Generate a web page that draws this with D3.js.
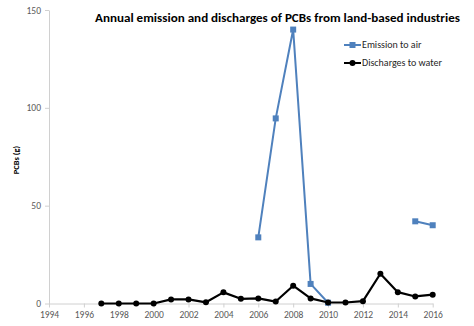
<!DOCTYPE html>
<html><head><meta charset="utf-8">
<script src="https://cdn.jsdelivr.net/npm/d3@7"></script>
<style>html,body{margin:0;padding:0;background:#fff;}svg{display:block;}</style>
</head><body>
<script>
const xTicks = [1994,1996,1998,2000,2002,2004,2006,2008,2010,2012,2014,2016];
const yTicks = [0,50,100,150];
const airYears  = [2006,2007,2008,2009,2010,2011,2012,2013,2014,2015,2016];
const airValues = [33.8,94.6,140,10,0.4,null,null,null,null,42,40];
const waterYears  = [1997,1998,1999,2000,2001,2002,2003,2004,2005,2006,2007,2008,2009,2010,2011,2012,2013,2014,2015,2016];
const waterValues = [0,0,0,0,2.1,2.1,0.6,5.7,2.4,2.6,1.0,9.1,2.6,0.5,0.5,1.2,15.2,5.8,3.6,4.5];
const seriesNames = ["Emission to air","Discharges to water"];
const title = "Annual emission and discharges of PCBs from land-based industries";
const yLabel = "PCBs (g)";

const W = 474, H = 326;
const svg = d3.select("body").append("svg").attr("width", W).attr("height", H);
const x = d3.scaleLinear().domain([1994, 2016]).range([49, 432.7]);
const y = d3.scaleLinear().domain([0, 150]).range([303.5, 10]);
const font = "Carlito, 'Liberation Sans Narrow', 'Liberation Sans', Arial, sans-serif";
const font2 = "Carlito, 'Liberation Sans', Arial, sans-serif";

// axes
const xAxis = svg.append("g").attr("transform", `translate(0,${y(0)})`)
  .call(d3.axisBottom(x).tickValues(xTicks).tickFormat(d3.format("d")).tickSize(4).tickSizeOuter(0));
const yAxis = svg.append("g").attr("transform", `translate(${x(1994)},0)`)
  .call(d3.axisLeft(y).tickValues(yTicks).tickSize(4).tickSizeOuter(0));
[xAxis, yAxis].forEach(g => {
  g.select(".domain").attr("stroke", "#d0d0d0").attr("stroke-width", 1);
  g.selectAll(".tick line").attr("stroke", "#d0d0d0");
  g.selectAll(".tick text").attr("fill", "#595959").style("font-family", font2).style("font-size", "9.5px");
});
xAxis.selectAll(".tick text").attr("dy", "0.71em").attr("y", 8);
yAxis.selectAll(".tick text").attr("x", -8);

// lines
const lineGen = d3.line().defined(d => d[1] != null).x(d => x(d[0])).y(d => y(d[1]));
const airData = airYears.map((yr, i) => [yr, airValues[i]]);
const waterData = waterYears.map((yr, i) => [yr, waterValues[i]]);
const airColor = "#4f81bd";

svg.append("path").datum(airData).attr("d", lineGen).attr("fill", "none")
  .attr("stroke", airColor).attr("stroke-width", 2).attr("stroke-linejoin", "round");
svg.selectAll(".airpt").data(airData.filter(d => d[1] != null)).enter().append("rect")
  .attr("x", d => x(d[0]) - 3).attr("y", d => y(d[1]) - 3).attr("width", 6).attr("height", 6)
  .attr("fill", airColor);

svg.append("path").datum(waterData).attr("d", lineGen).attr("fill", "none")
  .attr("stroke", "#000").attr("stroke-width", 2.2).attr("stroke-linejoin", "round");
svg.selectAll(".wpt").data(waterData).enter().append("circle")
  .attr("cx", d => x(d[0])).attr("cy", d => y(d[1])).attr("r", 3).attr("fill", "#000");

// title
svg.append("text").attr("x", 95).attr("y", 22).text(title)
  .style("font-family", font).style("font-weight", "bold").style("font-size", "12.5px")
  .attr("textLength", 365).attr("lengthAdjust", "spacingAndGlyphs").attr("fill", "#000");

// y label
svg.append("text").attr("transform", "translate(19,160) rotate(-90)").attr("text-anchor", "middle")
  .text(yLabel).style("font-family", font2).style("font-weight", "bold").style("font-size", "8.5px").attr("fill", "#000");

// legend
const leg = svg.append("g");
const legY = [45, 63];
const legColors = [airColor, "#000"];
seriesNames.forEach((name, i) => {
  leg.append("line").attr("x1", 344).attr("x2", 361).attr("y1", legY[i]).attr("y2", legY[i])
    .attr("stroke", legColors[i]).attr("stroke-width", 2);
  if (i === 0) leg.append("rect").attr("x", 349.5).attr("y", legY[i] - 3).attr("width", 6).attr("height", 6).attr("fill", airColor);
  else leg.append("circle").attr("cx", 352.5).attr("cy", legY[i]).attr("r", 3).attr("fill", "#000");
  leg.append("text").attr("x", 362).attr("y", legY[i] + 3.4).text(name)
    .style("font-family", font2).style("font-size", "10px").attr("fill", "#262626");
});
</script>
</body></html>
